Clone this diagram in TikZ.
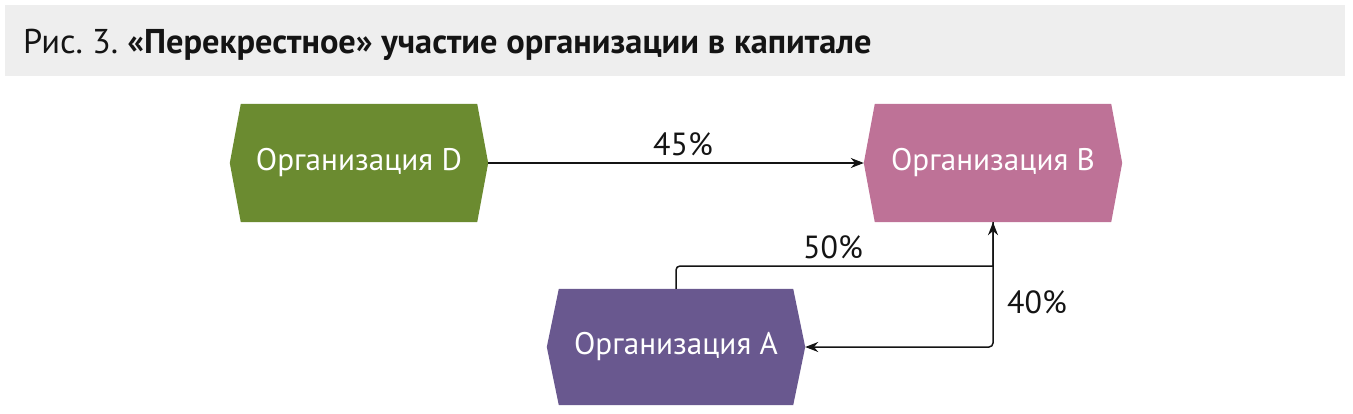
\documentclass[tikz,border=0pt]{standalone}
\usepackage{fontspec}
\setmainfont{PT Sans}
\usetikzlibrary{arrows.meta,backgrounds,calc}
\definecolor{orgD}{RGB}{107,139,48}
\definecolor{orgB}{RGB}{190,114,151}
\definecolor{orgA}{RGB}{105,88,143}
\definecolor{barbg}{RGB}{238,238,238}
\definecolor{ink}{RGB}{20,20,20}
\frenchspacing
\newcommand\hexfill[3]{\fill[#2] ([xshift=#3]#1.north west) -- ([xshift=-#3]#1.north east) -- (#1.east) -- ([xshift=-#3]#1.south east) -- ([xshift=#3]#1.south west) -- (#1.west) -- cycle;}
\begin{document}
\begin{tikzpicture}[x=1pt,y=-1pt,
  org/.style={minimum width=258pt,minimum height=118pt,inner sep=0pt,text=white,font=\fontsize{31.2}{36}\selectfont},
  arr/.style={draw=ink,line width=1.5pt,-{Stealth[length=13pt,width=10pt]}},
  pct/.style={font=\fontsize{32}{36}\selectfont,inner sep=0pt,text=ink}]
\useasboundingbox (0,0) rectangle (1353,413);
\fill[barbg] (5,5) rectangle (1345,76);
\node[anchor=base west,inner sep=0pt,text=ink,font=\fontsize{34.4}{40}\selectfont] (title) at (23,53) {Рис. 3. \textbf{«Перекрестное» участие организации в капитале}};
\node[org] (D) at (359,163) {Организация D};
\node[org] (B) at (993,163) {Организация B};
\node[org,minimum height=116pt] (A) at (676,347) {Организация A};
\begin{scope}[on background layer]
\hexfill{D}{orgD}{11}
\hexfill{B}{orgB}{11}
\hexfill{A}{orgA}{12}
\end{scope}
\coordinate (j) at (993,266);
\draw[arr] (D.east) -- (B.west);
\draw[arr] (A.north) [rounded corners=4pt] -- (A.north |- j) [sharp corners] -- (j) -- (B.south);
\draw[arr,rounded corners=4pt] (B.south) |- (A.east);
\node[pct] (p45) at (683,144) {45\%};
\node[pct] (p50) at (833,247) {50\%};
\node[pct] (p40) at (1037,302) {40\%};
\end{tikzpicture}
\end{document}
